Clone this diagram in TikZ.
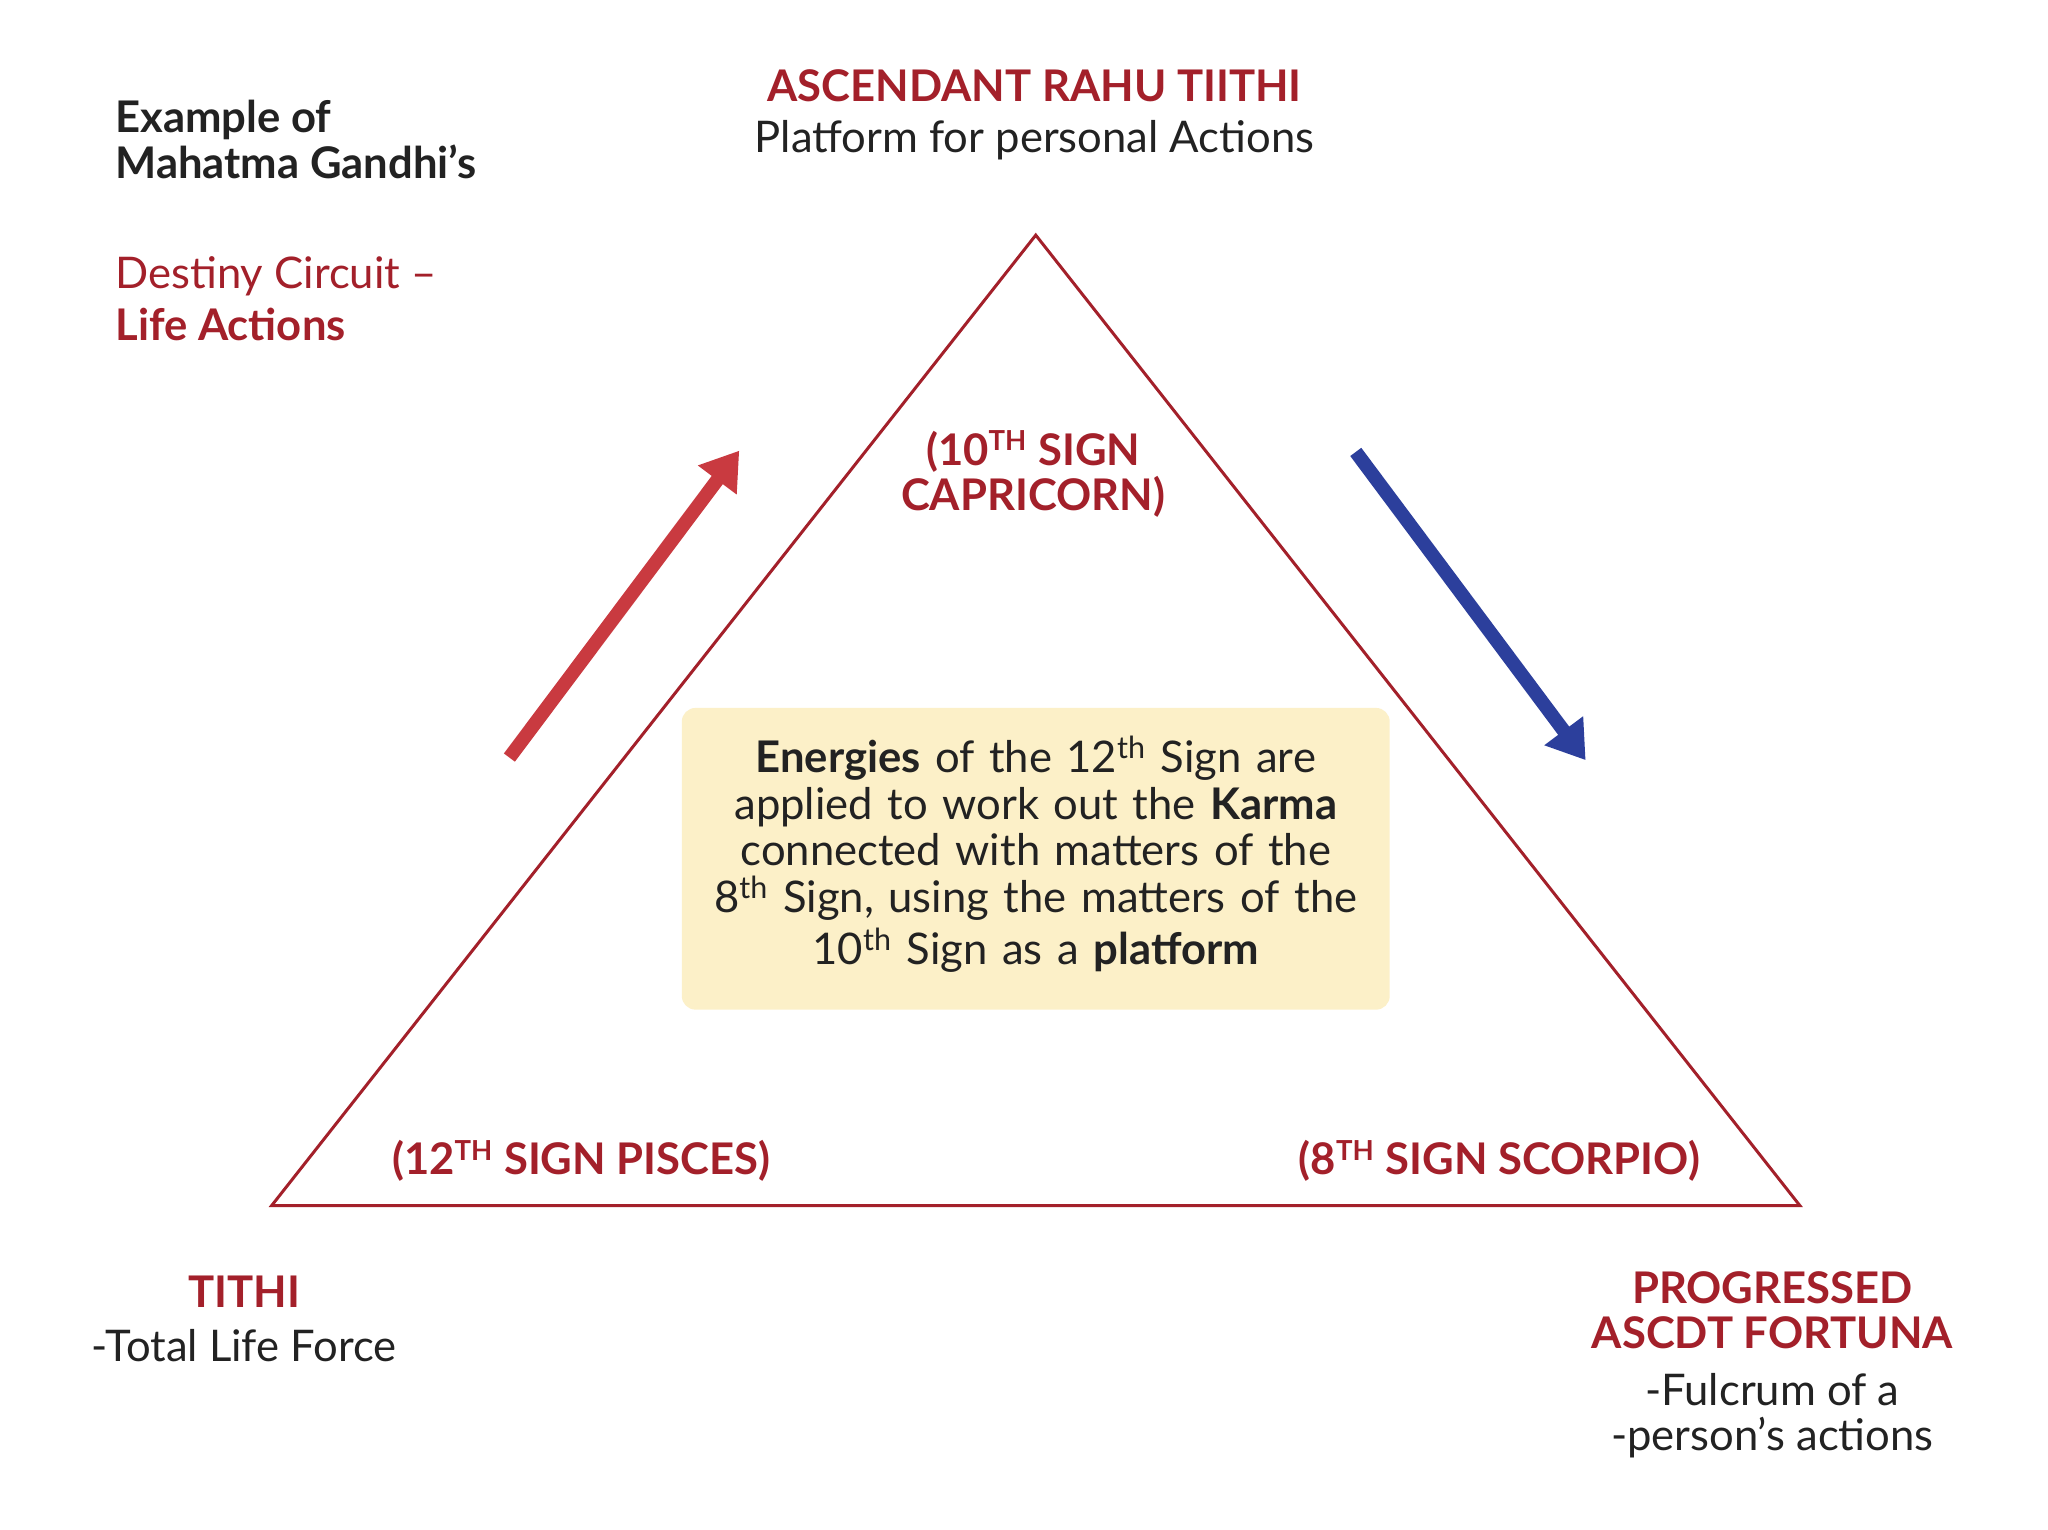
\documentclass[tikz,border=0pt]{standalone}
\usepackage{fontspec}
\setmainfont{Lato}
\usetikzlibrary{arrows.meta}
\definecolor{dred}{HTML}{A3202A}
\definecolor{ared}{HTML}{C93A40}
\definecolor{ablue}{HTML}{2C3F9C}
\definecolor{boxy}{HTML}{FCF0C8}
\definecolor{txt}{HTML}{222222}
\tikzset{
  lbl/.style={font=\fontsize{19}{22.7}\selectfont, text=txt, align=center, inner sep=0pt},
  redlbl/.style={lbl, text=dred, font=\fontsize{19}{22.7}\selectfont\bfseries},
  bigarrow/.style={line width=6pt, -{Triangle[length=16pt,width=20pt]}},
}
\newcommand{\sth}{\textsuperscript{\fontsize{12}{12}\selectfont TH}}
\begin{document}
\begin{tikzpicture}[x=0.02cm,y=-0.02cm]
\useasboundingbox (0,0) rectangle (1568,1171);
\fill[white] (0,0) rectangle (1568,1171);
% triangle
\coordinate (A) at (793,180);
\coordinate (L) at (208,923);
\coordinate (R) at (1378,923);
\draw[dred, line width=1.3pt] (A) -- (R) -- (L) -- cycle;
% box
\node[fill=boxy, rounded corners=6pt, minimum width=542*0.02cm, minimum height=231*0.02cm, inner sep=0pt] (box) at (793,657.5) {};
\node[lbl, text width=10cm] (boxt) at (793,654) {\fontsize{19}{20.3}\selectfont\textbf{Energies} of the 12\textsuperscript{th} Sign are\\
applied to work out the \textbf{Karma}\\
connected with matters of the\\
8\textsuperscript{th} Sign, using the matters of the\\
10\textsuperscript{th} Sign as a \textbf{platform}};
% arrows
\coordinate (r1) at (390,580);
\coordinate (r2) at (566,345);
\coordinate (b1) at (1038,346);
\coordinate (b2) at (1214,582);
\draw[bigarrow, ared] (r1) -- (r2);
\draw[bigarrow, ablue] (b1) -- (b2);
% texts
\node[lbl, anchor=north west, align=left, font=\fontsize{19}{20.3}\selectfont\bfseries] (ex) at (88,76) {Example of\\Mahatma Gandhi’s};
\node[lbl, anchor=north west, align=left, text=dred] (dc) at (88,196) {Destiny Circuit –\\\textbf{Life Actions}};
\node[redlbl] (asc) at (792,66) {ASCENDANT RAHU TIITHI};
\node[lbl] (plat) at (792,107) {Platform for personal Actions};
\node[redlbl] (cap) at (791,363) {(10\sth{} SIGN\\[-3pt]CAPRICORN)};
\node[redlbl] (pis) at (445,889) {(12\sth{} SIGN PISCES)};
\node[redlbl] (sco) at (1148,889) {(8\sth{} SIGN SCORPIO)};
\node[redlbl] (tit) at (187,989) {TITHI};
\node[lbl] (tlf) at (187,1030) {-Total Life Force};
\node[redlbl] (prog) at (1357,1003) {PROGRESSED\\[-3pt]ASCDT FORTUNA};
\node[lbl] (ful) at (1357,1084) {-Fulcrum of a\\[-3pt]-person’s actions};
\end{tikzpicture}
\end{document}
